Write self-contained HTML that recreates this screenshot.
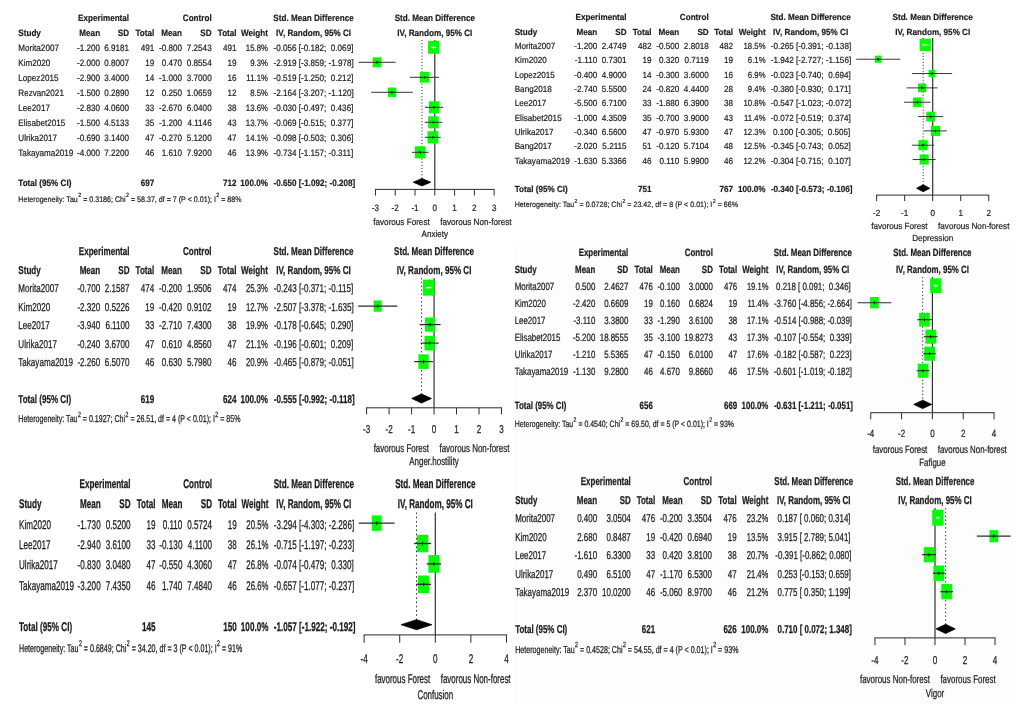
<!DOCTYPE html>
<html lang="en">
<head>
<meta charset="utf-8">
<title>Forest plots: forest therapy and mood states</title>
<style>
html,body{margin:0;padding:0;background:#fff;}
body{width:1023px;height:711px;overflow:hidden;}
svg{display:block;}
svg text{font-family:"Liberation Sans",sans-serif;font-size:8.0px;fill:#1c1c1c;stroke:#1c1c1c;stroke-width:0.18px;white-space:pre;text-rendering:geometricPrecision;}
</style>
</head>
<body>
<svg width="1023" height="711" viewBox="0 0 1023 711">
<rect x="0" y="0" width="1023" height="711" fill="#ffffff"/>
<rect x="513" y="242.5" width="496.5" height="462" fill="#fdfdfe"/>
<g id="Anxiety">
<text transform="translate(129.10,21.21) scale(1.015,1.1550)" text-anchor="end" font-weight="bold">Experimental</text>
<text transform="translate(211.65,21.21) scale(1.015,1.1550)" text-anchor="end" font-weight="bold">Control</text>
<text transform="translate(313.50,21.21) scale(1.015,1.1550)" text-anchor="middle" font-weight="bold">Std. Mean Difference</text>
<text transform="translate(434.80,21.21) scale(1.015,1.1550)" text-anchor="middle" font-weight="bold">Std. Mean Difference</text>
<text transform="translate(18.30,36.21) scale(1.015,1.1550)" font-weight="bold">Study</text>
<text transform="translate(100.10,36.21) scale(1.015,1.1550)" text-anchor="end" font-weight="bold">Mean</text>
<text transform="translate(129.10,36.21) scale(1.015,1.1550)" text-anchor="end" font-weight="bold">SD</text>
<text transform="translate(154.25,36.21) scale(1.015,1.1550)" text-anchor="end" font-weight="bold">Total</text>
<text transform="translate(182.00,36.21) scale(1.015,1.1550)" text-anchor="end" font-weight="bold">Mean</text>
<text transform="translate(211.65,36.21) scale(1.015,1.1550)" text-anchor="end" font-weight="bold">SD</text>
<text transform="translate(236.60,36.21) scale(1.015,1.1550)" text-anchor="end" font-weight="bold">Total</text>
<text transform="translate(267.90,36.21) scale(1.015,1.1550)" text-anchor="end" font-weight="bold">Weight</text>
<text transform="translate(313.50,36.21) scale(1.015,1.1550)" text-anchor="middle" font-weight="bold">IV, Random, 95% CI</text>
<text transform="translate(434.80,36.21) scale(1.015,1.1550)" text-anchor="middle" font-weight="bold">IV, Random, 95% CI</text>
<line x1="434.80" y1="40.00" x2="434.80" y2="189.40" stroke="#2b2b2b" stroke-width="1.15"/>
<line x1="421.94" y1="40.00" x2="421.94" y2="182.90" stroke="#1a1a1a" stroke-width="0.9" stroke-dasharray="1.16 1.96"/>
<text transform="translate(18.30,51.21) scale(1.015,1.1550)">Morita2007</text>
<text transform="translate(100.10,51.21) scale(1.015,1.1550)" text-anchor="end">-1.200</text>
<text transform="translate(129.10,51.21) scale(1.015,1.1550)" text-anchor="end">6.9181</text>
<text transform="translate(154.25,51.21) scale(1.015,1.1550)" text-anchor="end">491</text>
<text transform="translate(182.00,51.21) scale(1.015,1.1550)" text-anchor="end">-0.800</text>
<text transform="translate(211.65,51.21) scale(1.015,1.1550)" text-anchor="end">7.2543</text>
<text transform="translate(236.60,51.21) scale(1.015,1.1550)" text-anchor="end">491</text>
<text transform="translate(267.90,51.21) scale(0.9743999999999998,1.1550)" text-anchor="end">15.8%</text>
<text transform="translate(273.50,51.21) scale(1.015,1.1550)">-0.056 [-0.182;  0.069]</text>
<rect x="428.07" y="40.80" width="11.25" height="12.99" fill="#00ff00"/>
<line x1="431.20" y1="47.30" x2="436.16" y2="47.30" stroke="#fff" stroke-width="0.98"/>
<line x1="433.69" y1="45.91" x2="433.69" y2="48.69" stroke="#fff" stroke-width="1"/>
<text transform="translate(18.30,66.21) scale(1.015,1.1550)">Kim2020</text>
<text transform="translate(100.10,66.21) scale(1.015,1.1550)" text-anchor="end">-2.000</text>
<text transform="translate(129.10,66.21) scale(1.015,1.1550)" text-anchor="end">0.8007</text>
<text transform="translate(154.25,66.21) scale(1.015,1.1550)" text-anchor="end">19</text>
<text transform="translate(182.00,66.21) scale(1.015,1.1550)" text-anchor="end">0.470</text>
<text transform="translate(211.65,66.21) scale(1.015,1.1550)" text-anchor="end">0.8554</text>
<text transform="translate(236.60,66.21) scale(1.015,1.1550)" text-anchor="end">19</text>
<text transform="translate(267.90,66.21) scale(0.9743999999999998,1.1550)" text-anchor="end">9.3%</text>
<text transform="translate(273.50,66.21) scale(1.015,1.1550)">-2.919 [-3.859; -1.978]</text>
<rect x="372.75" y="57.32" width="8.63" height="9.97" fill="#00ff00"/>
<line x1="358.47" y1="62.30" x2="395.68" y2="62.30" stroke="#2b2b2b" stroke-width="0.98"/>
<line x1="377.06" y1="60.91" x2="377.06" y2="63.69" stroke="#000" stroke-width="1"/>
<text transform="translate(18.30,81.21) scale(1.015,1.1550)">Lopez2015</text>
<text transform="translate(100.10,81.21) scale(1.015,1.1550)" text-anchor="end">-2.900</text>
<text transform="translate(129.10,81.21) scale(1.015,1.1550)" text-anchor="end">3.4000</text>
<text transform="translate(154.25,81.21) scale(1.015,1.1550)" text-anchor="end">14</text>
<text transform="translate(182.00,81.21) scale(1.015,1.1550)" text-anchor="end">-1.000</text>
<text transform="translate(211.65,81.21) scale(1.015,1.1550)" text-anchor="end">3.7000</text>
<text transform="translate(236.60,81.21) scale(1.015,1.1550)" text-anchor="end">16</text>
<text transform="translate(267.90,81.21) scale(0.9743999999999998,1.1550)" text-anchor="end">11.1%</text>
<text transform="translate(273.50,81.21) scale(1.015,1.1550)">-0.519 [-1.250;  0.212]</text>
<rect x="419.82" y="71.85" width="9.43" height="10.89" fill="#00ff00"/>
<line x1="410.07" y1="77.30" x2="438.99" y2="77.30" stroke="#2b2b2b" stroke-width="0.98"/>
<line x1="424.53" y1="75.91" x2="424.53" y2="78.69" stroke="#000" stroke-width="1"/>
<text transform="translate(18.30,96.21) scale(1.015,1.1550)">Rezvan2021</text>
<text transform="translate(100.10,96.21) scale(1.015,1.1550)" text-anchor="end">-1.500</text>
<text transform="translate(129.10,96.21) scale(1.015,1.1550)" text-anchor="end">0.2890</text>
<text transform="translate(154.25,96.21) scale(1.015,1.1550)" text-anchor="end">12</text>
<text transform="translate(182.00,96.21) scale(1.015,1.1550)" text-anchor="end">0.250</text>
<text transform="translate(211.65,96.21) scale(1.015,1.1550)" text-anchor="end">1.0659</text>
<text transform="translate(236.60,96.21) scale(1.015,1.1550)" text-anchor="end">12</text>
<text transform="translate(267.90,96.21) scale(0.9743999999999998,1.1550)" text-anchor="end">8.5%</text>
<text transform="translate(273.50,96.21) scale(1.015,1.1550)">-2.164 [-3.207; -1.120]</text>
<rect x="387.87" y="87.53" width="8.25" height="9.53" fill="#00ff00"/>
<line x1="371.37" y1="92.30" x2="412.65" y2="92.30" stroke="#2b2b2b" stroke-width="0.98"/>
<line x1="392.00" y1="90.91" x2="392.00" y2="93.69" stroke="#000" stroke-width="1"/>
<text transform="translate(18.30,111.21) scale(1.015,1.1550)">Lee2017</text>
<text transform="translate(100.10,111.21) scale(1.015,1.1550)" text-anchor="end">-2.830</text>
<text transform="translate(129.10,111.21) scale(1.015,1.1550)" text-anchor="end">4.0600</text>
<text transform="translate(154.25,111.21) scale(1.015,1.1550)" text-anchor="end">33</text>
<text transform="translate(182.00,111.21) scale(1.015,1.1550)" text-anchor="end">-2.670</text>
<text transform="translate(211.65,111.21) scale(1.015,1.1550)" text-anchor="end">6.0400</text>
<text transform="translate(236.60,111.21) scale(1.015,1.1550)" text-anchor="end">38</text>
<text transform="translate(267.90,111.21) scale(0.9743999999999998,1.1550)" text-anchor="end">13.6%</text>
<text transform="translate(273.50,111.21) scale(1.015,1.1550)">-0.030 [-0.497;  0.436]</text>
<rect x="428.99" y="101.27" width="10.44" height="12.06" fill="#00ff00"/>
<line x1="424.97" y1="107.30" x2="443.42" y2="107.30" stroke="#2b2b2b" stroke-width="0.98"/>
<line x1="434.21" y1="105.91" x2="434.21" y2="108.69" stroke="#000" stroke-width="1"/>
<text transform="translate(18.30,126.21) scale(1.015,1.1550)">Elisabet2015</text>
<text transform="translate(100.10,126.21) scale(1.015,1.1550)" text-anchor="end">-1.500</text>
<text transform="translate(129.10,126.21) scale(1.015,1.1550)" text-anchor="end">4.5133</text>
<text transform="translate(154.25,126.21) scale(1.015,1.1550)" text-anchor="end">35</text>
<text transform="translate(182.00,126.21) scale(1.015,1.1550)" text-anchor="end">-1.200</text>
<text transform="translate(211.65,126.21) scale(1.015,1.1550)" text-anchor="end">4.1146</text>
<text transform="translate(236.60,126.21) scale(1.015,1.1550)" text-anchor="end">43</text>
<text transform="translate(267.90,126.21) scale(0.9743999999999998,1.1550)" text-anchor="end">13.7%</text>
<text transform="translate(273.50,126.21) scale(1.015,1.1550)">-0.069 [-0.515;  0.377]</text>
<rect x="428.20" y="116.25" width="10.48" height="12.10" fill="#00ff00"/>
<line x1="424.61" y1="122.30" x2="442.26" y2="122.30" stroke="#2b2b2b" stroke-width="0.98"/>
<line x1="433.44" y1="120.91" x2="433.44" y2="123.69" stroke="#000" stroke-width="1"/>
<text transform="translate(18.30,141.21) scale(1.015,1.1550)">Ulrika2017</text>
<text transform="translate(100.10,141.21) scale(1.015,1.1550)" text-anchor="end">-0.690</text>
<text transform="translate(129.10,141.21) scale(1.015,1.1550)" text-anchor="end">3.1400</text>
<text transform="translate(154.25,141.21) scale(1.015,1.1550)" text-anchor="end">47</text>
<text transform="translate(182.00,141.21) scale(1.015,1.1550)" text-anchor="end">-0.270</text>
<text transform="translate(211.65,141.21) scale(1.015,1.1550)" text-anchor="end">5.1200</text>
<text transform="translate(236.60,141.21) scale(1.015,1.1550)" text-anchor="end">47</text>
<text transform="translate(267.90,141.21) scale(0.9743999999999998,1.1550)" text-anchor="end">14.1%</text>
<text transform="translate(273.50,141.21) scale(1.015,1.1550)">-0.098 [-0.503;  0.306]</text>
<rect x="427.55" y="131.16" width="10.63" height="12.27" fill="#00ff00"/>
<line x1="424.85" y1="137.30" x2="440.85" y2="137.30" stroke="#2b2b2b" stroke-width="0.98"/>
<line x1="432.86" y1="135.91" x2="432.86" y2="138.69" stroke="#000" stroke-width="1"/>
<text transform="translate(18.30,156.21) scale(1.015,1.1550)">Takayama2019</text>
<text transform="translate(100.10,156.21) scale(1.015,1.1550)" text-anchor="end">-4.000</text>
<text transform="translate(129.10,156.21) scale(1.015,1.1550)" text-anchor="end">7.2200</text>
<text transform="translate(154.25,156.21) scale(1.015,1.1550)" text-anchor="end">46</text>
<text transform="translate(182.00,156.21) scale(1.015,1.1550)" text-anchor="end">1.610</text>
<text transform="translate(211.65,156.21) scale(1.015,1.1550)" text-anchor="end">7.9200</text>
<text transform="translate(236.60,156.21) scale(1.015,1.1550)" text-anchor="end">46</text>
<text transform="translate(267.90,156.21) scale(0.9743999999999998,1.1550)" text-anchor="end">13.9%</text>
<text transform="translate(273.50,156.21) scale(1.015,1.1550)">-0.734 [-1.157; -0.311]</text>
<rect x="415.01" y="146.21" width="10.55" height="12.19" fill="#00ff00"/>
<line x1="411.91" y1="152.30" x2="428.65" y2="152.30" stroke="#2b2b2b" stroke-width="0.98"/>
<line x1="420.28" y1="150.91" x2="420.28" y2="153.69" stroke="#000" stroke-width="1"/>
<text transform="translate(18.30,186.21) scale(1.015,1.1550)" font-weight="bold">Total (95% CI)</text>
<text transform="translate(154.25,186.21) scale(1.015,1.1550)" text-anchor="end" font-weight="bold">697</text>
<text transform="translate(236.60,186.21) scale(1.015,1.1550)" text-anchor="end" font-weight="bold">712</text>
<text transform="translate(267.90,186.21) scale(1.015,1.1550)" text-anchor="end" font-weight="bold">100.0%</text>
<text transform="translate(273.50,186.21) scale(1.015,1.1550)" font-weight="bold">-0.650 [-1.092; -0.208]</text>
<polygon points="413.20,182.20 421.94,178.50 430.69,182.20 421.94,185.90" fill="#000" stroke="#000" stroke-width="0.8"/>
<text transform="translate(18.30,201.66) scale(1.015,1.1550)" style="font-size:7.0px">Heterogeneity: Tau<tspan dx="0.4" dy="-3.8" style="font-size:5.2px">2</tspan><tspan dy="3.8"> </tspan>= 0.3186; Chi<tspan dx="0.4" dy="-3.8" style="font-size:5.2px">2</tspan><tspan dy="3.8"> </tspan>= 58.37, df = 7 (P &lt; 0.01); I<tspan dx="0.4" dy="-3.8" style="font-size:5.2px">2</tspan><tspan dy="3.8"> </tspan>= 88%</text>
<line x1="374.96" y1="189.40" x2="494.64" y2="189.40" stroke="#2b2b2b" stroke-width="1"/>
<line x1="375.46" y1="189.40" x2="375.46" y2="195.60" stroke="#2b2b2b" stroke-width="1"/>
<text transform="translate(375.46,210.81) scale(1.015,1.1550)" text-anchor="middle">-3</text>
<line x1="395.24" y1="189.40" x2="395.24" y2="195.60" stroke="#2b2b2b" stroke-width="1"/>
<text transform="translate(395.24,210.81) scale(1.015,1.1550)" text-anchor="middle">-2</text>
<line x1="415.02" y1="189.40" x2="415.02" y2="195.60" stroke="#2b2b2b" stroke-width="1"/>
<text transform="translate(415.02,210.81) scale(1.015,1.1550)" text-anchor="middle">-1</text>
<line x1="434.80" y1="189.40" x2="434.80" y2="195.60" stroke="#2b2b2b" stroke-width="1"/>
<text transform="translate(434.80,210.81) scale(1.015,1.1550)" text-anchor="middle">0</text>
<line x1="454.58" y1="189.40" x2="454.58" y2="195.60" stroke="#2b2b2b" stroke-width="1"/>
<text transform="translate(454.58,210.81) scale(1.015,1.1550)" text-anchor="middle">1</text>
<line x1="474.36" y1="189.40" x2="474.36" y2="195.60" stroke="#2b2b2b" stroke-width="1"/>
<text transform="translate(474.36,210.81) scale(1.015,1.1550)" text-anchor="middle">2</text>
<line x1="494.14" y1="189.40" x2="494.14" y2="195.60" stroke="#2b2b2b" stroke-width="1"/>
<text transform="translate(494.14,210.81) scale(1.015,1.1550)" text-anchor="middle">3</text>
<text transform="translate(429.70,225.41) scale(1.015,1.1550)" text-anchor="end">favorous Forest</text>
<text transform="translate(440.20,225.41) scale(1.015,1.1550)">favorous Non-forest</text>
<text transform="translate(434.80,236.71) scale(1.015,1.1550)" text-anchor="middle">Anxiety</text>
</g>
<g id="Depression">
<text transform="translate(626.60,20.25) scale(1.015,1.1034)" text-anchor="end" font-weight="bold">Experimental</text>
<text transform="translate(708.70,20.25) scale(1.015,1.1034)" text-anchor="end" font-weight="bold">Control</text>
<text transform="translate(810.60,20.25) scale(1.015,1.1034)" text-anchor="middle" font-weight="bold">Std. Mean Difference</text>
<text transform="translate(932.70,20.25) scale(1.015,1.1034)" text-anchor="middle" font-weight="bold">Std. Mean Difference</text>
<text transform="translate(514.70,34.58) scale(1.015,1.1034)" font-weight="bold">Study</text>
<text transform="translate(597.30,34.58) scale(1.015,1.1034)" text-anchor="end" font-weight="bold">Mean</text>
<text transform="translate(626.60,34.58) scale(1.015,1.1034)" text-anchor="end" font-weight="bold">SD</text>
<text transform="translate(651.50,34.58) scale(1.015,1.1034)" text-anchor="end" font-weight="bold">Total</text>
<text transform="translate(679.30,34.58) scale(1.015,1.1034)" text-anchor="end" font-weight="bold">Mean</text>
<text transform="translate(708.70,34.58) scale(1.015,1.1034)" text-anchor="end" font-weight="bold">SD</text>
<text transform="translate(733.00,34.58) scale(1.015,1.1034)" text-anchor="end" font-weight="bold">Total</text>
<text transform="translate(765.60,34.58) scale(1.015,1.1034)" text-anchor="end" font-weight="bold">Weight</text>
<text transform="translate(810.60,34.58) scale(1.015,1.1034)" text-anchor="middle" font-weight="bold">IV, Random, 95% CI</text>
<text transform="translate(932.70,34.58) scale(1.015,1.1034)" text-anchor="middle" font-weight="bold">IV, Random, 95% CI</text>
<line x1="932.70" y1="38.00" x2="932.70" y2="195.10" stroke="#2b2b2b" stroke-width="1.15"/>
<line x1="923.17" y1="38.00" x2="923.17" y2="189.05" stroke="#1a1a1a" stroke-width="0.9" stroke-dasharray="1.10 1.88"/>
<text transform="translate(514.70,48.91) scale(1.015,1.1034)">Morita2007</text>
<text transform="translate(597.30,48.91) scale(1.015,1.1034)" text-anchor="end">-1.200</text>
<text transform="translate(626.60,48.91) scale(1.015,1.1034)" text-anchor="end">2.4749</text>
<text transform="translate(651.50,48.91) scale(1.015,1.1034)" text-anchor="end">482</text>
<text transform="translate(679.30,48.91) scale(1.015,1.1034)" text-anchor="end">-0.500</text>
<text transform="translate(708.70,48.91) scale(1.015,1.1034)" text-anchor="end">2.8018</text>
<text transform="translate(733.00,48.91) scale(1.015,1.1034)" text-anchor="end">482</text>
<text transform="translate(765.60,48.91) scale(0.9743999999999998,1.1034)" text-anchor="end">18.5%</text>
<text transform="translate(770.80,48.91) scale(1.015,1.1034)">-0.265 [-0.391; -0.138]</text>
<rect x="919.65" y="38.69" width="11.25" height="12.41" fill="#00ff00"/>
<line x1="921.74" y1="44.90" x2="928.83" y2="44.90" stroke="#fff" stroke-width="0.94"/>
<line x1="925.27" y1="43.58" x2="925.27" y2="46.22" stroke="#fff" stroke-width="1"/>
<text transform="translate(514.70,63.24) scale(1.015,1.1034)">Kim2020</text>
<text transform="translate(597.30,63.24) scale(1.015,1.1034)" text-anchor="end">-1.110</text>
<text transform="translate(626.60,63.24) scale(1.015,1.1034)" text-anchor="end">0.7301</text>
<text transform="translate(651.50,63.24) scale(1.015,1.1034)" text-anchor="end">19</text>
<text transform="translate(679.30,63.24) scale(1.015,1.1034)" text-anchor="end">0.320</text>
<text transform="translate(708.70,63.24) scale(1.015,1.1034)" text-anchor="end">0.7119</text>
<text transform="translate(733.00,63.24) scale(1.015,1.1034)" text-anchor="end">19</text>
<text transform="translate(765.60,63.24) scale(0.9743999999999998,1.1034)" text-anchor="end">6.1%</text>
<text transform="translate(770.80,63.24) scale(1.015,1.1034)">-1.942 [-2.727; -1.156]</text>
<rect x="875.04" y="55.67" width="6.46" height="7.13" fill="#00ff00"/>
<line x1="856.26" y1="59.23" x2="900.30" y2="59.23" stroke="#2b2b2b" stroke-width="0.94"/>
<line x1="878.27" y1="57.91" x2="878.27" y2="60.55" stroke="#000" stroke-width="1"/>
<text transform="translate(514.70,77.57) scale(1.015,1.1034)">Lopez2015</text>
<text transform="translate(597.30,77.57) scale(1.015,1.1034)" text-anchor="end">-0.400</text>
<text transform="translate(626.60,77.57) scale(1.015,1.1034)" text-anchor="end">4.9000</text>
<text transform="translate(651.50,77.57) scale(1.015,1.1034)" text-anchor="end">14</text>
<text transform="translate(679.30,77.57) scale(1.015,1.1034)" text-anchor="end">-0.300</text>
<text transform="translate(708.70,77.57) scale(1.015,1.1034)" text-anchor="end">3.6000</text>
<text transform="translate(733.00,77.57) scale(1.015,1.1034)" text-anchor="end">16</text>
<text transform="translate(765.60,77.57) scale(0.9743999999999998,1.1034)" text-anchor="end">6.9%</text>
<text transform="translate(770.80,77.57) scale(1.015,1.1034)">-0.023 [-0.740;  0.694]</text>
<rect x="928.62" y="69.77" width="6.87" height="7.58" fill="#00ff00"/>
<line x1="911.96" y1="73.56" x2="952.15" y2="73.56" stroke="#2b2b2b" stroke-width="0.94"/>
<line x1="932.06" y1="72.24" x2="932.06" y2="74.88" stroke="#000" stroke-width="1"/>
<text transform="translate(514.70,91.90) scale(1.015,1.1034)">Bang2018</text>
<text transform="translate(597.30,91.90) scale(1.015,1.1034)" text-anchor="end">-2.740</text>
<text transform="translate(626.60,91.90) scale(1.015,1.1034)" text-anchor="end">5.5500</text>
<text transform="translate(651.50,91.90) scale(1.015,1.1034)" text-anchor="end">24</text>
<text transform="translate(679.30,91.90) scale(1.015,1.1034)" text-anchor="end">-0.820</text>
<text transform="translate(708.70,91.90) scale(1.015,1.1034)" text-anchor="end">4.4400</text>
<text transform="translate(733.00,91.90) scale(1.015,1.1034)" text-anchor="end">28</text>
<text transform="translate(765.60,91.90) scale(0.9743999999999998,1.1034)" text-anchor="end">9.4%</text>
<text transform="translate(770.80,91.90) scale(1.015,1.1034)">-0.380 [-0.930;  0.171]</text>
<rect x="918.04" y="83.47" width="8.02" height="8.85" fill="#00ff00"/>
<line x1="906.63" y1="87.89" x2="937.49" y2="87.89" stroke="#2b2b2b" stroke-width="0.94"/>
<line x1="922.05" y1="86.57" x2="922.05" y2="89.21" stroke="#000" stroke-width="1"/>
<text transform="translate(514.70,106.23) scale(1.015,1.1034)">Lee2017</text>
<text transform="translate(597.30,106.23) scale(1.015,1.1034)" text-anchor="end">-5.500</text>
<text transform="translate(626.60,106.23) scale(1.015,1.1034)" text-anchor="end">6.7100</text>
<text transform="translate(651.50,106.23) scale(1.015,1.1034)" text-anchor="end">33</text>
<text transform="translate(679.30,106.23) scale(1.015,1.1034)" text-anchor="end">-1.880</text>
<text transform="translate(708.70,106.23) scale(1.015,1.1034)" text-anchor="end">6.3900</text>
<text transform="translate(733.00,106.23) scale(1.015,1.1034)" text-anchor="end">38</text>
<text transform="translate(765.60,106.23) scale(0.9743999999999998,1.1034)" text-anchor="end">10.8%</text>
<text transform="translate(770.80,106.23) scale(1.015,1.1034)">-0.547 [-1.023; -0.072]</text>
<rect x="913.07" y="97.48" width="8.60" height="9.48" fill="#00ff00"/>
<line x1="904.03" y1="102.22" x2="930.68" y2="102.22" stroke="#2b2b2b" stroke-width="0.94"/>
<line x1="917.37" y1="100.90" x2="917.37" y2="103.54" stroke="#000" stroke-width="1"/>
<text transform="translate(514.70,120.56) scale(1.015,1.1034)">Elisabet2015</text>
<text transform="translate(597.30,120.56) scale(1.015,1.1034)" text-anchor="end">-1.000</text>
<text transform="translate(626.60,120.56) scale(1.015,1.1034)" text-anchor="end">4.3509</text>
<text transform="translate(651.50,120.56) scale(1.015,1.1034)" text-anchor="end">35</text>
<text transform="translate(679.30,120.56) scale(1.015,1.1034)" text-anchor="end">-0.700</text>
<text transform="translate(708.70,120.56) scale(1.015,1.1034)" text-anchor="end">3.9000</text>
<text transform="translate(733.00,120.56) scale(1.015,1.1034)" text-anchor="end">43</text>
<text transform="translate(765.60,120.56) scale(0.9743999999999998,1.1034)" text-anchor="end">11.4%</text>
<text transform="translate(770.80,120.56) scale(1.015,1.1034)">-0.072 [-0.519;  0.374]</text>
<rect x="926.27" y="111.68" width="8.83" height="9.74" fill="#00ff00"/>
<line x1="918.15" y1="116.55" x2="943.18" y2="116.55" stroke="#2b2b2b" stroke-width="0.94"/>
<line x1="930.68" y1="115.23" x2="930.68" y2="117.87" stroke="#000" stroke-width="1"/>
<text transform="translate(514.70,134.89) scale(1.015,1.1034)">Ulrika2017</text>
<text transform="translate(597.30,134.89) scale(1.015,1.1034)" text-anchor="end">-0.340</text>
<text transform="translate(626.60,134.89) scale(1.015,1.1034)" text-anchor="end">6.5600</text>
<text transform="translate(651.50,134.89) scale(1.015,1.1034)" text-anchor="end">47</text>
<text transform="translate(679.30,134.89) scale(1.015,1.1034)" text-anchor="end">-0.970</text>
<text transform="translate(708.70,134.89) scale(1.015,1.1034)" text-anchor="end">5.9300</text>
<text transform="translate(733.00,134.89) scale(1.015,1.1034)" text-anchor="end">47</text>
<text transform="translate(765.60,134.89) scale(0.9743999999999998,1.1034)" text-anchor="end">12.3%</text>
<text transform="translate(770.80,134.89) scale(1.015,1.1034)"> 0.100 [-0.305;  0.505]</text>
<rect x="930.92" y="125.82" width="9.17" height="10.12" fill="#00ff00"/>
<line x1="924.15" y1="130.88" x2="946.86" y2="130.88" stroke="#2b2b2b" stroke-width="0.94"/>
<line x1="935.50" y1="129.56" x2="935.50" y2="132.20" stroke="#000" stroke-width="1"/>
<text transform="translate(514.70,149.22) scale(1.015,1.1034)">Bang2017</text>
<text transform="translate(597.30,149.22) scale(1.015,1.1034)" text-anchor="end">-2.020</text>
<text transform="translate(626.60,149.22) scale(1.015,1.1034)" text-anchor="end">5.2115</text>
<text transform="translate(651.50,149.22) scale(1.015,1.1034)" text-anchor="end">51</text>
<text transform="translate(679.30,149.22) scale(1.015,1.1034)" text-anchor="end">-0.120</text>
<text transform="translate(708.70,149.22) scale(1.015,1.1034)" text-anchor="end">5.7104</text>
<text transform="translate(733.00,149.22) scale(1.015,1.1034)" text-anchor="end">48</text>
<text transform="translate(765.60,149.22) scale(0.9743999999999998,1.1034)" text-anchor="end">12.5%</text>
<text transform="translate(770.80,149.22) scale(1.015,1.1034)">-0.345 [-0.743;  0.052]</text>
<rect x="918.41" y="140.11" width="9.25" height="10.20" fill="#00ff00"/>
<line x1="911.87" y1="145.21" x2="934.16" y2="145.21" stroke="#2b2b2b" stroke-width="0.94"/>
<line x1="923.03" y1="143.89" x2="923.03" y2="146.53" stroke="#000" stroke-width="1"/>
<text transform="translate(514.70,163.55) scale(1.015,1.1034)">Takayama2019</text>
<text transform="translate(597.30,163.55) scale(1.015,1.1034)" text-anchor="end">-1.630</text>
<text transform="translate(626.60,163.55) scale(1.015,1.1034)" text-anchor="end">5.3366</text>
<text transform="translate(651.50,163.55) scale(1.015,1.1034)" text-anchor="end">46</text>
<text transform="translate(679.30,163.55) scale(1.015,1.1034)" text-anchor="end">0.110</text>
<text transform="translate(708.70,163.55) scale(1.015,1.1034)" text-anchor="end">5.9900</text>
<text transform="translate(733.00,163.55) scale(1.015,1.1034)" text-anchor="end">46</text>
<text transform="translate(765.60,163.55) scale(0.9743999999999998,1.1034)" text-anchor="end">12.2%</text>
<text transform="translate(770.80,163.55) scale(1.015,1.1034)">-0.304 [-0.715;  0.107]</text>
<rect x="919.61" y="154.50" width="9.14" height="10.08" fill="#00ff00"/>
<line x1="912.66" y1="159.54" x2="935.70" y2="159.54" stroke="#2b2b2b" stroke-width="0.94"/>
<line x1="924.18" y1="158.22" x2="924.18" y2="160.86" stroke="#000" stroke-width="1"/>
<text transform="translate(514.70,192.21) scale(1.015,1.1034)" font-weight="bold">Total (95% CI)</text>
<text transform="translate(651.50,192.21) scale(1.015,1.1034)" text-anchor="end" font-weight="bold">751</text>
<text transform="translate(733.00,192.21) scale(1.015,1.1034)" text-anchor="end" font-weight="bold">767</text>
<text transform="translate(765.60,192.21) scale(1.015,1.1034)" text-anchor="end" font-weight="bold">100.0%</text>
<text transform="translate(770.80,192.21) scale(1.015,1.1034)" font-weight="bold">-0.340 [-0.573; -0.106]</text>
<polygon points="916.64,188.25 923.17,184.72 929.73,188.25 923.17,191.78" fill="#000" stroke="#000" stroke-width="0.8"/>
<text transform="translate(514.70,206.97) scale(1.015,1.1034)" style="font-size:7.0px">Heterogeneity: Tau<tspan dx="0.4" dy="-3.8" style="font-size:5.2px">2</tspan><tspan dy="3.8"> </tspan>= 0.0728; Chi<tspan dx="0.4" dy="-3.8" style="font-size:5.2px">2</tspan><tspan dy="3.8"> </tspan>= 23.42, df = 8 (P &lt; 0.01); I<tspan dx="0.4" dy="-3.8" style="font-size:5.2px">2</tspan><tspan dy="3.8"> </tspan>= 66%</text>
<line x1="876.14" y1="195.10" x2="989.26" y2="195.10" stroke="#2b2b2b" stroke-width="1"/>
<line x1="876.64" y1="195.10" x2="876.64" y2="201.10" stroke="#2b2b2b" stroke-width="1"/>
<text transform="translate(876.64,215.56) scale(1.015,1.1034)" text-anchor="middle">-2</text>
<line x1="904.67" y1="195.10" x2="904.67" y2="201.10" stroke="#2b2b2b" stroke-width="1"/>
<text transform="translate(904.67,215.56) scale(1.015,1.1034)" text-anchor="middle">-1</text>
<line x1="932.70" y1="195.10" x2="932.70" y2="201.10" stroke="#2b2b2b" stroke-width="1"/>
<text transform="translate(932.70,215.56) scale(1.015,1.1034)" text-anchor="middle">0</text>
<line x1="960.73" y1="195.10" x2="960.73" y2="201.10" stroke="#2b2b2b" stroke-width="1"/>
<text transform="translate(960.73,215.56) scale(1.015,1.1034)" text-anchor="middle">1</text>
<line x1="988.76" y1="195.10" x2="988.76" y2="201.10" stroke="#2b2b2b" stroke-width="1"/>
<text transform="translate(988.76,215.56) scale(1.015,1.1034)" text-anchor="middle">2</text>
<text transform="translate(927.60,229.41) scale(1.015,1.1034)" text-anchor="end">favorous Forest</text>
<text transform="translate(938.10,229.41) scale(1.015,1.1034)">favorous Non-forest</text>
<text transform="translate(932.70,240.56) scale(1.015,1.1034)" text-anchor="middle">Depression</text>
</g>
<g id="Anger-hostility">
<text transform="translate(129.50,255.08) scale(1.01,1.4245)" text-anchor="end" font-weight="bold">Experimental</text>
<text transform="translate(211.60,255.08) scale(1.01,1.4245)" text-anchor="end" font-weight="bold">Control</text>
<text transform="translate(313.50,255.08) scale(1.01,1.4245)" text-anchor="middle" font-weight="bold">Std. Mean Difference</text>
<text transform="translate(434.05,255.08) scale(1.01,1.4245)" text-anchor="middle" font-weight="bold">Std. Mean Difference</text>
<text transform="translate(18.30,273.58) scale(1.01,1.4245)" font-weight="bold">Study</text>
<text transform="translate(100.30,273.58) scale(1.01,1.4245)" text-anchor="end" font-weight="bold">Mean</text>
<text transform="translate(129.50,273.58) scale(1.01,1.4245)" text-anchor="end" font-weight="bold">SD</text>
<text transform="translate(154.25,273.58) scale(1.01,1.4245)" text-anchor="end" font-weight="bold">Total</text>
<text transform="translate(182.00,273.58) scale(1.01,1.4245)" text-anchor="end" font-weight="bold">Mean</text>
<text transform="translate(211.60,273.58) scale(1.01,1.4245)" text-anchor="end" font-weight="bold">SD</text>
<text transform="translate(236.40,273.58) scale(1.01,1.4245)" text-anchor="end" font-weight="bold">Total</text>
<text transform="translate(267.90,273.58) scale(1.01,1.4245)" text-anchor="end" font-weight="bold">Weight</text>
<text transform="translate(313.50,273.58) scale(1.01,1.4245)" text-anchor="middle" font-weight="bold">IV, Random, 95% CI</text>
<text transform="translate(434.05,273.58) scale(1.01,1.4245)" text-anchor="middle" font-weight="bold">IV, Random, 95% CI</text>
<line x1="434.05" y1="278.00" x2="434.05" y2="407.80" stroke="#2b2b2b" stroke-width="1.15"/>
<line x1="421.57" y1="278.00" x2="421.57" y2="399.00" stroke="#1a1a1a" stroke-width="0.9" stroke-dasharray="1.42 2.42"/>
<text transform="translate(18.30,292.08) scale(1.01,1.4245)">Morita2007</text>
<text transform="translate(100.30,292.08) scale(1.01,1.4245)" text-anchor="end">-0.700</text>
<text transform="translate(129.50,292.08) scale(1.01,1.4245)" text-anchor="end">2.1587</text>
<text transform="translate(154.25,292.08) scale(1.01,1.4245)" text-anchor="end">474</text>
<text transform="translate(182.00,292.08) scale(1.01,1.4245)" text-anchor="end">-0.200</text>
<text transform="translate(211.60,292.08) scale(1.01,1.4245)" text-anchor="end">1.9506</text>
<text transform="translate(236.40,292.08) scale(1.01,1.4245)" text-anchor="end">474</text>
<text transform="translate(267.90,292.08) scale(0.9696,1.4245)" text-anchor="end">25.3%</text>
<text transform="translate(273.80,292.08) scale(1.01,1.4245)">-0.243 [-0.371; -0.115]</text>
<rect x="422.96" y="279.59" width="11.25" height="16.03" fill="#00ff00"/>
<line x1="425.71" y1="287.60" x2="431.46" y2="287.60" stroke="#fff" stroke-width="1.21"/>
<line x1="428.59" y1="285.89" x2="428.59" y2="289.31" stroke="#fff" stroke-width="1"/>
<text transform="translate(18.30,310.58) scale(1.01,1.4245)">Kim2020</text>
<text transform="translate(100.30,310.58) scale(1.01,1.4245)" text-anchor="end">-2.320</text>
<text transform="translate(129.50,310.58) scale(1.01,1.4245)" text-anchor="end">0.5226</text>
<text transform="translate(154.25,310.58) scale(1.01,1.4245)" text-anchor="end">19</text>
<text transform="translate(182.00,310.58) scale(1.01,1.4245)" text-anchor="end">-0.420</text>
<text transform="translate(211.60,310.58) scale(1.01,1.4245)" text-anchor="end">0.9102</text>
<text transform="translate(236.40,310.58) scale(1.01,1.4245)" text-anchor="end">19</text>
<text transform="translate(267.90,310.58) scale(0.9696,1.4245)" text-anchor="end">12.7%</text>
<text transform="translate(273.80,310.58) scale(1.01,1.4245)">-2.507 [-3.378; -1.635]</text>
<rect x="373.71" y="300.42" width="7.97" height="11.35" fill="#00ff00"/>
<line x1="358.11" y1="306.10" x2="397.30" y2="306.10" stroke="#2b2b2b" stroke-width="1.21"/>
<line x1="377.69" y1="304.39" x2="377.69" y2="307.81" stroke="#000" stroke-width="1"/>
<text transform="translate(18.30,329.08) scale(1.01,1.4245)">Lee2017</text>
<text transform="translate(100.30,329.08) scale(1.01,1.4245)" text-anchor="end">-3.940</text>
<text transform="translate(129.50,329.08) scale(1.01,1.4245)" text-anchor="end">6.1100</text>
<text transform="translate(154.25,329.08) scale(1.01,1.4245)" text-anchor="end">33</text>
<text transform="translate(182.00,329.08) scale(1.01,1.4245)" text-anchor="end">-2.710</text>
<text transform="translate(211.60,329.08) scale(1.01,1.4245)" text-anchor="end">7.4300</text>
<text transform="translate(236.40,329.08) scale(1.01,1.4245)" text-anchor="end">38</text>
<text transform="translate(267.90,329.08) scale(0.9696,1.4245)" text-anchor="end">19.9%</text>
<text transform="translate(273.80,329.08) scale(1.01,1.4245)">-0.178 [-0.645;  0.290]</text>
<rect x="425.06" y="317.49" width="9.98" height="14.21" fill="#00ff00"/>
<line x1="419.55" y1="324.60" x2="440.57" y2="324.60" stroke="#2b2b2b" stroke-width="1.21"/>
<line x1="430.05" y1="322.89" x2="430.05" y2="326.31" stroke="#000" stroke-width="1"/>
<text transform="translate(18.30,347.58) scale(1.01,1.4245)">Ulrika2017</text>
<text transform="translate(100.30,347.58) scale(1.01,1.4245)" text-anchor="end">-0.240</text>
<text transform="translate(129.50,347.58) scale(1.01,1.4245)" text-anchor="end">3.6700</text>
<text transform="translate(154.25,347.58) scale(1.01,1.4245)" text-anchor="end">47</text>
<text transform="translate(182.00,347.58) scale(1.01,1.4245)" text-anchor="end">0.610</text>
<text transform="translate(211.60,347.58) scale(1.01,1.4245)" text-anchor="end">4.8560</text>
<text transform="translate(236.40,347.58) scale(1.01,1.4245)" text-anchor="end">47</text>
<text transform="translate(267.90,347.58) scale(0.9696,1.4245)" text-anchor="end">21.1%</text>
<text transform="translate(273.80,347.58) scale(1.01,1.4245)">-0.196 [-0.601;  0.209]</text>
<rect x="424.51" y="335.78" width="10.27" height="14.64" fill="#00ff00"/>
<line x1="420.54" y1="343.10" x2="438.75" y2="343.10" stroke="#2b2b2b" stroke-width="1.21"/>
<line x1="429.64" y1="341.39" x2="429.64" y2="344.81" stroke="#000" stroke-width="1"/>
<text transform="translate(18.30,366.08) scale(1.01,1.4245)">Takayama2019</text>
<text transform="translate(100.30,366.08) scale(1.01,1.4245)" text-anchor="end">-2.260</text>
<text transform="translate(129.50,366.08) scale(1.01,1.4245)" text-anchor="end">6.5070</text>
<text transform="translate(154.25,366.08) scale(1.01,1.4245)" text-anchor="end">46</text>
<text transform="translate(182.00,366.08) scale(1.01,1.4245)" text-anchor="end">0.630</text>
<text transform="translate(211.60,366.08) scale(1.01,1.4245)" text-anchor="end">5.7980</text>
<text transform="translate(236.40,366.08) scale(1.01,1.4245)" text-anchor="end">46</text>
<text transform="translate(267.90,366.08) scale(0.9696,1.4245)" text-anchor="end">20.9%</text>
<text transform="translate(273.80,366.08) scale(1.01,1.4245)">-0.465 [-0.879; -0.051]</text>
<rect x="418.48" y="354.32" width="10.23" height="14.57" fill="#00ff00"/>
<line x1="414.29" y1="361.60" x2="432.90" y2="361.60" stroke="#2b2b2b" stroke-width="1.21"/>
<line x1="423.60" y1="359.89" x2="423.60" y2="363.31" stroke="#000" stroke-width="1"/>
<text transform="translate(18.30,403.08) scale(1.01,1.4245)" font-weight="bold">Total (95% CI)</text>
<text transform="translate(154.25,403.08) scale(1.01,1.4245)" text-anchor="end" font-weight="bold">619</text>
<text transform="translate(236.40,403.08) scale(1.01,1.4245)" text-anchor="end" font-weight="bold">624</text>
<text transform="translate(267.90,403.08) scale(1.01,1.4245)" text-anchor="end" font-weight="bold">100.0%</text>
<text transform="translate(273.80,403.08) scale(1.01,1.4245)" font-weight="bold">-0.555 [-0.992; -0.118]</text>
<polygon points="411.75,398.50 421.57,393.94 431.40,398.50 421.57,403.06" fill="#000" stroke="#000" stroke-width="0.8"/>
<text transform="translate(18.30,422.14) scale(1.01,1.4245)" style="font-size:7.0px">Heterogeneity: Tau<tspan dx="0.4" dy="-3.8" style="font-size:5.2px">2</tspan><tspan dy="3.8"> </tspan>= 0.1927; Chi<tspan dx="0.4" dy="-3.8" style="font-size:5.2px">2</tspan><tspan dy="3.8"> </tspan>= 26.51, df = 4 (P &lt; 0.01); I<tspan dx="0.4" dy="-3.8" style="font-size:5.2px">2</tspan><tspan dy="3.8"> </tspan>= 85%</text>
<line x1="366.11" y1="407.80" x2="501.99" y2="407.80" stroke="#2b2b2b" stroke-width="1"/>
<line x1="366.61" y1="407.80" x2="366.61" y2="414.40" stroke="#2b2b2b" stroke-width="1"/>
<text transform="translate(366.61,433.38) scale(1.01,1.4245)" text-anchor="middle">-3</text>
<line x1="389.09" y1="407.80" x2="389.09" y2="414.40" stroke="#2b2b2b" stroke-width="1"/>
<text transform="translate(389.09,433.38) scale(1.01,1.4245)" text-anchor="middle">-2</text>
<line x1="411.57" y1="407.80" x2="411.57" y2="414.40" stroke="#2b2b2b" stroke-width="1"/>
<text transform="translate(411.57,433.38) scale(1.01,1.4245)" text-anchor="middle">-1</text>
<line x1="434.05" y1="407.80" x2="434.05" y2="414.40" stroke="#2b2b2b" stroke-width="1"/>
<text transform="translate(434.05,433.38) scale(1.01,1.4245)" text-anchor="middle">0</text>
<line x1="456.53" y1="407.80" x2="456.53" y2="414.40" stroke="#2b2b2b" stroke-width="1"/>
<text transform="translate(456.53,433.38) scale(1.01,1.4245)" text-anchor="middle">1</text>
<line x1="479.01" y1="407.80" x2="479.01" y2="414.40" stroke="#2b2b2b" stroke-width="1"/>
<text transform="translate(479.01,433.38) scale(1.01,1.4245)" text-anchor="middle">2</text>
<line x1="501.49" y1="407.80" x2="501.49" y2="414.40" stroke="#2b2b2b" stroke-width="1"/>
<text transform="translate(501.49,433.38) scale(1.01,1.4245)" text-anchor="middle">3</text>
<text transform="translate(428.95,451.88) scale(0.99485,1.4245)" text-anchor="end">favorous Forest</text>
<text transform="translate(439.45,451.88) scale(0.99485,1.4245)">favorous Non-forest</text>
<text transform="translate(434.05,465.18) scale(0.99485,1.4245)" text-anchor="middle">Anger.hostility</text>
</g>
<g id="Fafigue">
<text transform="translate(628.30,256.00) scale(0.987,1.3090)" text-anchor="end" font-weight="bold">Experimental</text>
<text transform="translate(712.85,256.00) scale(0.987,1.3090)" text-anchor="end" font-weight="bold">Control</text>
<text transform="translate(812.80,256.00) scale(0.987,1.3090)" text-anchor="middle" font-weight="bold">Std. Mean Difference</text>
<text transform="translate(932.40,256.00) scale(0.987,1.3090)" text-anchor="middle" font-weight="bold">Std. Mean Difference</text>
<text transform="translate(514.70,273.00) scale(0.987,1.3090)" font-weight="bold">Study</text>
<text transform="translate(595.30,273.00) scale(0.987,1.3090)" text-anchor="end" font-weight="bold">Mean</text>
<text transform="translate(628.30,273.00) scale(0.987,1.3090)" text-anchor="end" font-weight="bold">SD</text>
<text transform="translate(652.80,273.00) scale(0.987,1.3090)" text-anchor="end" font-weight="bold">Total</text>
<text transform="translate(679.85,273.00) scale(0.987,1.3090)" text-anchor="end" font-weight="bold">Mean</text>
<text transform="translate(712.85,273.00) scale(0.987,1.3090)" text-anchor="end" font-weight="bold">SD</text>
<text transform="translate(737.20,273.00) scale(0.987,1.3090)" text-anchor="end" font-weight="bold">Total</text>
<text transform="translate(768.40,273.00) scale(0.987,1.3090)" text-anchor="end" font-weight="bold">Weight</text>
<text transform="translate(812.80,273.00) scale(0.987,1.3090)" text-anchor="middle" font-weight="bold">IV, Random, 95% CI</text>
<text transform="translate(932.40,273.00) scale(0.987,1.3090)" text-anchor="middle" font-weight="bold">IV, Random, 95% CI</text>
<line x1="932.40" y1="277.00" x2="932.40" y2="412.70" stroke="#2b2b2b" stroke-width="1.15"/>
<line x1="922.68" y1="277.00" x2="922.68" y2="405.25" stroke="#1a1a1a" stroke-width="0.9" stroke-dasharray="1.31 2.23"/>
<text transform="translate(514.70,290.00) scale(0.987,1.3090)">Morita2007</text>
<text transform="translate(595.30,290.00) scale(0.987,1.3090)" text-anchor="end">0.500</text>
<text transform="translate(628.30,290.00) scale(0.987,1.3090)" text-anchor="end">2.4627</text>
<text transform="translate(652.80,290.00) scale(0.987,1.3090)" text-anchor="end">476</text>
<text transform="translate(679.85,290.00) scale(0.987,1.3090)" text-anchor="end">-0.100</text>
<text transform="translate(712.85,290.00) scale(0.987,1.3090)" text-anchor="end">3.0000</text>
<text transform="translate(737.20,290.00) scale(0.987,1.3090)" text-anchor="end">476</text>
<text transform="translate(768.40,290.00) scale(0.9475199999999999,1.3090)" text-anchor="end">19.1%</text>
<text transform="translate(773.90,290.00) scale(0.987,1.3090)"> 0.218 [ 0.091;  0.346]</text>
<rect x="930.13" y="278.34" width="11.25" height="14.73" fill="#00ff00"/>
<line x1="933.80" y1="285.70" x2="937.73" y2="285.70" stroke="#fff" stroke-width="1.11"/>
<line x1="935.76" y1="284.13" x2="935.76" y2="287.27" stroke="#fff" stroke-width="1"/>
<text transform="translate(514.70,307.00) scale(0.987,1.3090)">Kim2020</text>
<text transform="translate(595.30,307.00) scale(0.987,1.3090)" text-anchor="end">-2.420</text>
<text transform="translate(628.30,307.00) scale(0.987,1.3090)" text-anchor="end">0.6609</text>
<text transform="translate(652.80,307.00) scale(0.987,1.3090)" text-anchor="end">19</text>
<text transform="translate(679.85,307.00) scale(0.987,1.3090)" text-anchor="end">0.160</text>
<text transform="translate(712.85,307.00) scale(0.987,1.3090)" text-anchor="end">0.6824</text>
<text transform="translate(737.20,307.00) scale(0.987,1.3090)" text-anchor="end">19</text>
<text transform="translate(768.40,307.00) scale(0.9475199999999999,1.3090)" text-anchor="end">11.4%</text>
<text transform="translate(773.90,307.00) scale(0.987,1.3090)">-3.760 [-4.856; -2.664]</text>
<rect x="870.11" y="297.01" width="8.69" height="11.38" fill="#00ff00"/>
<line x1="857.57" y1="302.70" x2="891.35" y2="302.70" stroke="#2b2b2b" stroke-width="1.11"/>
<line x1="874.46" y1="301.13" x2="874.46" y2="304.27" stroke="#000" stroke-width="1"/>
<text transform="translate(514.70,324.00) scale(0.987,1.3090)">Lee2017</text>
<text transform="translate(595.30,324.00) scale(0.987,1.3090)" text-anchor="end">-3.110</text>
<text transform="translate(628.30,324.00) scale(0.987,1.3090)" text-anchor="end">3.3800</text>
<text transform="translate(652.80,324.00) scale(0.987,1.3090)" text-anchor="end">33</text>
<text transform="translate(679.85,324.00) scale(0.987,1.3090)" text-anchor="end">-1.290</text>
<text transform="translate(712.85,324.00) scale(0.987,1.3090)" text-anchor="end">3.6100</text>
<text transform="translate(737.20,324.00) scale(0.987,1.3090)" text-anchor="end">38</text>
<text transform="translate(768.40,324.00) scale(0.9475199999999999,1.3090)" text-anchor="end">17.1%</text>
<text transform="translate(773.90,324.00) scale(0.987,1.3090)">-0.514 [-0.988; -0.039]</text>
<rect x="919.16" y="312.73" width="10.64" height="13.93" fill="#00ff00"/>
<line x1="917.17" y1="319.70" x2="931.80" y2="319.70" stroke="#2b2b2b" stroke-width="1.11"/>
<line x1="924.48" y1="318.13" x2="924.48" y2="321.27" stroke="#000" stroke-width="1"/>
<text transform="translate(514.70,341.00) scale(0.987,1.3090)">Elisabet2015</text>
<text transform="translate(595.30,341.00) scale(0.987,1.3090)" text-anchor="end">-5.200</text>
<text transform="translate(628.30,341.00) scale(0.987,1.3090)" text-anchor="end">18.8555</text>
<text transform="translate(652.80,341.00) scale(0.987,1.3090)" text-anchor="end">35</text>
<text transform="translate(679.85,341.00) scale(0.987,1.3090)" text-anchor="end">-3.100</text>
<text transform="translate(712.85,341.00) scale(0.987,1.3090)" text-anchor="end">19.8273</text>
<text transform="translate(737.20,341.00) scale(0.987,1.3090)" text-anchor="end">43</text>
<text transform="translate(768.40,341.00) scale(0.9475199999999999,1.3090)" text-anchor="end">17.3%</text>
<text transform="translate(773.90,341.00) scale(0.987,1.3090)">-0.107 [-0.554;  0.339]</text>
<rect x="925.40" y="329.69" width="10.71" height="14.02" fill="#00ff00"/>
<line x1="923.86" y1="336.70" x2="937.62" y2="336.70" stroke="#2b2b2b" stroke-width="1.11"/>
<line x1="930.75" y1="335.13" x2="930.75" y2="338.27" stroke="#000" stroke-width="1"/>
<text transform="translate(514.70,358.00) scale(0.987,1.3090)">Ulrika2017</text>
<text transform="translate(595.30,358.00) scale(0.987,1.3090)" text-anchor="end">-1.210</text>
<text transform="translate(628.30,358.00) scale(0.987,1.3090)" text-anchor="end">5.5365</text>
<text transform="translate(652.80,358.00) scale(0.987,1.3090)" text-anchor="end">47</text>
<text transform="translate(679.85,358.00) scale(0.987,1.3090)" text-anchor="end">-0.150</text>
<text transform="translate(712.85,358.00) scale(0.987,1.3090)" text-anchor="end">6.0100</text>
<text transform="translate(737.20,358.00) scale(0.987,1.3090)" text-anchor="end">47</text>
<text transform="translate(768.40,358.00) scale(0.9475199999999999,1.3090)" text-anchor="end">17.6%</text>
<text transform="translate(773.90,358.00) scale(0.987,1.3090)">-0.182 [-0.587;  0.223]</text>
<rect x="924.20" y="346.63" width="10.80" height="14.14" fill="#00ff00"/>
<line x1="923.35" y1="353.70" x2="935.84" y2="353.70" stroke="#2b2b2b" stroke-width="1.11"/>
<line x1="929.60" y1="352.13" x2="929.60" y2="355.27" stroke="#000" stroke-width="1"/>
<text transform="translate(514.70,375.00) scale(0.987,1.3090)">Takayama2019</text>
<text transform="translate(595.30,375.00) scale(0.987,1.3090)" text-anchor="end">-1.130</text>
<text transform="translate(628.30,375.00) scale(0.987,1.3090)" text-anchor="end">9.2800</text>
<text transform="translate(652.80,375.00) scale(0.987,1.3090)" text-anchor="end">46</text>
<text transform="translate(679.85,375.00) scale(0.987,1.3090)" text-anchor="end">4.670</text>
<text transform="translate(712.85,375.00) scale(0.987,1.3090)" text-anchor="end">9.8660</text>
<text transform="translate(737.20,375.00) scale(0.987,1.3090)" text-anchor="end">46</text>
<text transform="translate(768.40,375.00) scale(0.9475199999999999,1.3090)" text-anchor="end">17.5%</text>
<text transform="translate(773.90,375.00) scale(0.987,1.3090)">-0.601 [-1.019; -0.182]</text>
<rect x="917.75" y="363.65" width="10.77" height="14.10" fill="#00ff00"/>
<line x1="916.70" y1="370.70" x2="929.60" y2="370.70" stroke="#2b2b2b" stroke-width="1.11"/>
<line x1="923.14" y1="369.13" x2="923.14" y2="372.27" stroke="#000" stroke-width="1"/>
<text transform="translate(514.70,409.00) scale(0.987,1.3090)" font-weight="bold">Total (95% CI)</text>
<text transform="translate(652.80,409.00) scale(0.987,1.3090)" text-anchor="end" font-weight="bold">656</text>
<text transform="translate(737.20,409.00) scale(0.987,1.3090)" text-anchor="end" font-weight="bold">669</text>
<text transform="translate(768.40,409.00) scale(0.987,1.3090)" text-anchor="end" font-weight="bold">100.0%</text>
<text transform="translate(773.90,409.00) scale(0.987,1.3090)" font-weight="bold">-0.631 [-1.211; -0.051]</text>
<polygon points="913.74,404.40 922.68,400.21 931.61,404.40 922.68,408.59" fill="#000" stroke="#000" stroke-width="0.8"/>
<text transform="translate(514.70,426.51) scale(0.99687,1.3090)" style="font-size:7.0px">Heterogeneity: Tau<tspan dx="0.4" dy="-3.8" style="font-size:5.2px">2</tspan><tspan dy="3.8"> </tspan>= 0.4540; Chi<tspan dx="0.4" dy="-3.8" style="font-size:5.2px">2</tspan><tspan dy="3.8"> </tspan>= 69.50, df = 5 (P &lt; 0.01); I<tspan dx="0.4" dy="-3.8" style="font-size:5.2px">2</tspan><tspan dy="3.8"> </tspan>= 93%</text>
<line x1="870.26" y1="412.70" x2="994.54" y2="412.70" stroke="#2b2b2b" stroke-width="1"/>
<line x1="870.76" y1="412.70" x2="870.76" y2="419.40" stroke="#2b2b2b" stroke-width="1"/>
<text transform="translate(870.76,436.55) scale(0.99687,1.3090)" text-anchor="middle">-4</text>
<line x1="901.58" y1="412.70" x2="901.58" y2="419.40" stroke="#2b2b2b" stroke-width="1"/>
<text transform="translate(901.58,436.55) scale(0.99687,1.3090)" text-anchor="middle">-2</text>
<line x1="932.40" y1="412.70" x2="932.40" y2="419.40" stroke="#2b2b2b" stroke-width="1"/>
<text transform="translate(932.40,436.55) scale(0.99687,1.3090)" text-anchor="middle">0</text>
<line x1="963.22" y1="412.70" x2="963.22" y2="419.40" stroke="#2b2b2b" stroke-width="1"/>
<text transform="translate(963.22,436.55) scale(0.99687,1.3090)" text-anchor="middle">2</text>
<line x1="994.04" y1="412.70" x2="994.04" y2="419.40" stroke="#2b2b2b" stroke-width="1"/>
<text transform="translate(994.04,436.55) scale(0.99687,1.3090)" text-anchor="middle">4</text>
<text transform="translate(927.30,453.45) scale(0.982065,1.3090)" text-anchor="end">favorous Forest</text>
<text transform="translate(937.80,453.45) scale(0.982065,1.3090)">favorous Non-forest</text>
<text transform="translate(932.40,466.25) scale(0.982065,1.3090)" text-anchor="middle">Fafigue</text>
</g>
<g id="Confusion">
<text transform="translate(130.60,487.80) scale(1.015,1.5708)" text-anchor="end" font-weight="bold">Experimental</text>
<text transform="translate(212.10,487.80) scale(1.015,1.5708)" text-anchor="end" font-weight="bold">Control</text>
<text transform="translate(313.80,487.80) scale(1.015,1.5708)" text-anchor="middle" font-weight="bold">Std. Mean Difference</text>
<text transform="translate(435.30,487.80) scale(1.015,1.5708)" text-anchor="middle" font-weight="bold">Std. Mean Difference</text>
<text transform="translate(19.00,508.20) scale(1.015,1.5708)" font-weight="bold">Study</text>
<text transform="translate(100.65,508.20) scale(1.015,1.5708)" text-anchor="end" font-weight="bold">Mean</text>
<text transform="translate(130.60,508.20) scale(1.015,1.5708)" text-anchor="end" font-weight="bold">SD</text>
<text transform="translate(155.50,508.20) scale(1.015,1.5708)" text-anchor="end" font-weight="bold">Total</text>
<text transform="translate(182.40,508.20) scale(1.015,1.5708)" text-anchor="end" font-weight="bold">Mean</text>
<text transform="translate(212.10,508.20) scale(1.015,1.5708)" text-anchor="end" font-weight="bold">SD</text>
<text transform="translate(236.70,508.20) scale(1.015,1.5708)" text-anchor="end" font-weight="bold">Total</text>
<text transform="translate(268.40,508.20) scale(1.015,1.5708)" text-anchor="end" font-weight="bold">Weight</text>
<text transform="translate(313.80,508.20) scale(1.015,1.5708)" text-anchor="middle" font-weight="bold">IV, Random, 95% CI</text>
<text transform="translate(435.30,508.20) scale(1.015,1.5708)" text-anchor="middle" font-weight="bold">IV, Random, 95% CI</text>
<line x1="435.30" y1="512.50" x2="435.30" y2="634.90" stroke="#2b2b2b" stroke-width="1.15"/>
<line x1="416.50" y1="512.50" x2="416.50" y2="626.10" stroke="#1a1a1a" stroke-width="0.9" stroke-dasharray="1.57 2.67"/>
<text transform="translate(19.00,528.60) scale(1.015,1.5708)">Kim2020</text>
<text transform="translate(100.65,528.60) scale(1.015,1.5708)" text-anchor="end">-1.730</text>
<text transform="translate(130.60,528.60) scale(1.015,1.5708)" text-anchor="end">0.5200</text>
<text transform="translate(155.50,528.60) scale(1.015,1.5708)" text-anchor="end">19</text>
<text transform="translate(182.40,528.60) scale(1.015,1.5708)" text-anchor="end">0.110</text>
<text transform="translate(212.10,528.60) scale(1.015,1.5708)" text-anchor="end">0.5724</text>
<text transform="translate(236.70,528.60) scale(1.015,1.5708)" text-anchor="end">19</text>
<text transform="translate(268.40,528.60) scale(0.9743999999999998,1.5708)" text-anchor="end">20.5%</text>
<text transform="translate(273.80,528.60) scale(1.015,1.5708)">-3.294 [-4.303; -2.286]</text>
<rect x="371.78" y="515.37" width="9.84" height="15.46" fill="#00ff00"/>
<line x1="358.75" y1="523.10" x2="394.63" y2="523.10" stroke="#2b2b2b" stroke-width="1.34"/>
<line x1="376.70" y1="521.22" x2="376.70" y2="524.98" stroke="#000" stroke-width="1"/>
<text transform="translate(19.00,549.00) scale(1.015,1.5708)">Lee2017</text>
<text transform="translate(100.65,549.00) scale(1.015,1.5708)" text-anchor="end">-2.940</text>
<text transform="translate(130.60,549.00) scale(1.015,1.5708)" text-anchor="end">3.6100</text>
<text transform="translate(155.50,549.00) scale(1.015,1.5708)" text-anchor="end">33</text>
<text transform="translate(182.40,549.00) scale(1.015,1.5708)" text-anchor="end">-0.130</text>
<text transform="translate(212.10,549.00) scale(1.015,1.5708)" text-anchor="end">4.1100</text>
<text transform="translate(236.70,549.00) scale(1.015,1.5708)" text-anchor="end">38</text>
<text transform="translate(268.40,549.00) scale(0.9743999999999998,1.5708)" text-anchor="end">26.1%</text>
<text transform="translate(273.80,549.00) scale(1.015,1.5708)">-0.715 [-1.197; -0.233]</text>
<rect x="417.03" y="534.78" width="11.10" height="17.44" fill="#00ff00"/>
<line x1="414.01" y1="543.50" x2="431.15" y2="543.50" stroke="#2b2b2b" stroke-width="1.34"/>
<line x1="422.58" y1="541.62" x2="422.58" y2="545.38" stroke="#000" stroke-width="1"/>
<text transform="translate(19.00,569.40) scale(1.015,1.5708)">Ulrika2017</text>
<text transform="translate(100.65,569.40) scale(1.015,1.5708)" text-anchor="end">-0.830</text>
<text transform="translate(130.60,569.40) scale(1.015,1.5708)" text-anchor="end">3.0480</text>
<text transform="translate(155.50,569.40) scale(1.015,1.5708)" text-anchor="end">47</text>
<text transform="translate(182.40,569.40) scale(1.015,1.5708)" text-anchor="end">-0.550</text>
<text transform="translate(212.10,569.40) scale(1.015,1.5708)" text-anchor="end">4.3060</text>
<text transform="translate(236.70,569.40) scale(1.015,1.5708)" text-anchor="end">47</text>
<text transform="translate(268.40,569.40) scale(0.9743999999999998,1.5708)" text-anchor="end">26.8%</text>
<text transform="translate(273.80,569.40) scale(1.015,1.5708)">-0.074 [-0.479;  0.330]</text>
<rect x="428.36" y="555.06" width="11.25" height="17.67" fill="#00ff00"/>
<line x1="426.78" y1="563.90" x2="441.17" y2="563.90" stroke="#2b2b2b" stroke-width="1.34"/>
<line x1="433.98" y1="562.02" x2="433.98" y2="565.78" stroke="#000" stroke-width="1"/>
<text transform="translate(19.00,589.80) scale(1.015,1.5708)">Takayama2019</text>
<text transform="translate(100.65,589.80) scale(1.015,1.5708)" text-anchor="end">-3.200</text>
<text transform="translate(130.60,589.80) scale(1.015,1.5708)" text-anchor="end">7.4350</text>
<text transform="translate(155.50,589.80) scale(1.015,1.5708)" text-anchor="end">46</text>
<text transform="translate(182.40,589.80) scale(1.015,1.5708)" text-anchor="end">1.740</text>
<text transform="translate(212.10,589.80) scale(1.015,1.5708)" text-anchor="end">7.4840</text>
<text transform="translate(236.70,589.80) scale(1.015,1.5708)" text-anchor="end">46</text>
<text transform="translate(268.40,589.80) scale(0.9743999999999998,1.5708)" text-anchor="end">26.6%</text>
<text transform="translate(273.80,589.80) scale(1.015,1.5708)">-0.657 [-1.077; -0.237]</text>
<rect x="418.01" y="575.50" width="11.21" height="17.61" fill="#00ff00"/>
<line x1="416.14" y1="584.30" x2="431.08" y2="584.30" stroke="#2b2b2b" stroke-width="1.34"/>
<line x1="423.61" y1="582.42" x2="423.61" y2="586.18" stroke="#000" stroke-width="1"/>
<text transform="translate(19.00,630.60) scale(1.015,1.5708)" font-weight="bold">Total (95% CI)</text>
<text transform="translate(155.50,630.60) scale(1.015,1.5708)" text-anchor="end" font-weight="bold">145</text>
<text transform="translate(236.70,630.60) scale(1.015,1.5708)" text-anchor="end" font-weight="bold">150</text>
<text transform="translate(268.40,630.60) scale(1.015,1.5708)" text-anchor="end" font-weight="bold">100.0%</text>
<text transform="translate(273.80,630.60) scale(1.015,1.5708)" font-weight="bold">-1.057 [-1.922; -0.192]</text>
<polygon points="401.11,624.70 416.50,619.67 431.88,624.70 416.50,629.73" fill="#000" stroke="#000" stroke-width="0.8"/>
<text transform="translate(19.00,651.61) scale(1.015,1.5708)" style="font-size:7.0px">Heterogeneity: Tau<tspan dx="0.4" dy="-3.8" style="font-size:5.2px">2</tspan><tspan dy="3.8"> </tspan>= 0.6849; Chi<tspan dx="0.4" dy="-3.8" style="font-size:5.2px">2</tspan><tspan dy="3.8"> </tspan>= 34.20, df = 3 (P &lt; 0.01); I<tspan dx="0.4" dy="-3.8" style="font-size:5.2px">2</tspan><tspan dy="3.8"> </tspan>= 91%</text>
<line x1="363.64" y1="634.90" x2="506.96" y2="634.90" stroke="#2b2b2b" stroke-width="1"/>
<line x1="364.14" y1="634.90" x2="364.14" y2="642.80" stroke="#2b2b2b" stroke-width="1"/>
<text transform="translate(364.14,663.30) scale(1.015,1.5708)" text-anchor="middle">-4</text>
<line x1="399.72" y1="634.90" x2="399.72" y2="642.80" stroke="#2b2b2b" stroke-width="1"/>
<text transform="translate(399.72,663.30) scale(1.015,1.5708)" text-anchor="middle">-2</text>
<line x1="435.30" y1="634.90" x2="435.30" y2="642.80" stroke="#2b2b2b" stroke-width="1"/>
<text transform="translate(435.30,663.30) scale(1.015,1.5708)" text-anchor="middle">0</text>
<line x1="470.88" y1="634.90" x2="470.88" y2="642.80" stroke="#2b2b2b" stroke-width="1"/>
<text transform="translate(470.88,663.30) scale(1.015,1.5708)" text-anchor="middle">2</text>
<line x1="506.46" y1="634.90" x2="506.46" y2="642.80" stroke="#2b2b2b" stroke-width="1"/>
<text transform="translate(506.46,663.30) scale(1.015,1.5708)" text-anchor="middle">4</text>
<text transform="translate(430.20,683.30) scale(0.9946999999999999,1.5708)" text-anchor="end">favorous Forest</text>
<text transform="translate(440.70,683.30) scale(0.9946999999999999,1.5708)">favorous Non-forest</text>
<text transform="translate(435.30,698.70) scale(0.9946999999999999,1.5708)" text-anchor="middle">Confusion</text>
</g>
<g id="Vigor">
<text transform="translate(630.80,485.48) scale(0.995,1.4245)" text-anchor="end" font-weight="bold">Experimental</text>
<text transform="translate(711.85,485.48) scale(0.995,1.4245)" text-anchor="end" font-weight="bold">Control</text>
<text transform="translate(813.70,485.48) scale(0.995,1.4245)" text-anchor="middle" font-weight="bold">Std. Mean Difference</text>
<text transform="translate(935.00,485.48) scale(0.995,1.4245)" text-anchor="middle" font-weight="bold">Std. Mean Difference</text>
<text transform="translate(515.20,503.98) scale(0.995,1.4245)" font-weight="bold">Study</text>
<text transform="translate(597.10,503.98) scale(0.995,1.4245)" text-anchor="end" font-weight="bold">Mean</text>
<text transform="translate(630.80,503.98) scale(0.995,1.4245)" text-anchor="end" font-weight="bold">SD</text>
<text transform="translate(655.15,503.98) scale(0.995,1.4245)" text-anchor="end" font-weight="bold">Total</text>
<text transform="translate(682.50,503.98) scale(0.995,1.4245)" text-anchor="end" font-weight="bold">Mean</text>
<text transform="translate(711.85,503.98) scale(0.995,1.4245)" text-anchor="end" font-weight="bold">SD</text>
<text transform="translate(736.70,503.98) scale(0.995,1.4245)" text-anchor="end" font-weight="bold">Total</text>
<text transform="translate(768.30,503.98) scale(0.995,1.4245)" text-anchor="end" font-weight="bold">Weight</text>
<text transform="translate(813.70,503.98) scale(0.995,1.4245)" text-anchor="middle" font-weight="bold">IV, Random, 95% CI</text>
<text transform="translate(935.00,503.98) scale(0.995,1.4245)" text-anchor="middle" font-weight="bold">IV, Random, 95% CI</text>
<line x1="935.00" y1="508.00" x2="935.00" y2="637.90" stroke="#2b2b2b" stroke-width="1.15"/>
<line x1="945.66" y1="508.00" x2="945.66" y2="629.40" stroke="#1a1a1a" stroke-width="0.9" stroke-dasharray="1.42 2.42"/>
<text transform="translate(515.20,522.48) scale(0.995,1.4245)">Morita2007</text>
<text transform="translate(597.10,522.48) scale(0.995,1.4245)" text-anchor="end">0.400</text>
<text transform="translate(630.80,522.48) scale(0.995,1.4245)" text-anchor="end">3.0504</text>
<text transform="translate(655.15,522.48) scale(0.995,1.4245)" text-anchor="end">476</text>
<text transform="translate(682.50,522.48) scale(0.995,1.4245)" text-anchor="end">-0.200</text>
<text transform="translate(711.85,522.48) scale(0.995,1.4245)" text-anchor="end">3.3504</text>
<text transform="translate(736.70,522.48) scale(0.995,1.4245)" text-anchor="end">476</text>
<text transform="translate(768.30,522.48) scale(0.9551999999999999,1.4245)" text-anchor="end">23.2%</text>
<text transform="translate(775.30,522.48) scale(0.995,1.4245)"> 0.187 [ 0.060; 0.314]</text>
<rect x="932.18" y="509.69" width="11.25" height="16.03" fill="#00ff00"/>
<line x1="935.90" y1="517.70" x2="939.71" y2="517.70" stroke="#fff" stroke-width="1.21"/>
<line x1="937.81" y1="515.99" x2="937.81" y2="519.41" stroke="#fff" stroke-width="1"/>
<text transform="translate(515.20,540.98) scale(0.995,1.4245)">Kim2020</text>
<text transform="translate(597.10,540.98) scale(0.995,1.4245)" text-anchor="end">2.680</text>
<text transform="translate(630.80,540.98) scale(0.995,1.4245)" text-anchor="end">0.8487</text>
<text transform="translate(655.15,540.98) scale(0.995,1.4245)" text-anchor="end">19</text>
<text transform="translate(682.50,540.98) scale(0.995,1.4245)" text-anchor="end">-0.420</text>
<text transform="translate(711.85,540.98) scale(0.995,1.4245)" text-anchor="end">0.6940</text>
<text transform="translate(736.70,540.98) scale(0.995,1.4245)" text-anchor="end">19</text>
<text transform="translate(768.30,540.98) scale(0.9551999999999999,1.4245)" text-anchor="end">13.5%</text>
<text transform="translate(775.30,540.98) scale(0.995,1.4245)"> 3.915 [ 2.789; 5.041]</text>
<rect x="989.47" y="530.09" width="8.58" height="12.22" fill="#00ff00"/>
<line x1="976.86" y1="536.20" x2="1010.67" y2="536.20" stroke="#2b2b2b" stroke-width="1.21"/>
<line x1="993.76" y1="534.49" x2="993.76" y2="537.91" stroke="#000" stroke-width="1"/>
<text transform="translate(515.20,559.48) scale(0.995,1.4245)">Lee2017</text>
<text transform="translate(597.10,559.48) scale(0.995,1.4245)" text-anchor="end">-1.610</text>
<text transform="translate(630.80,559.48) scale(0.995,1.4245)" text-anchor="end">6.3300</text>
<text transform="translate(655.15,559.48) scale(0.995,1.4245)" text-anchor="end">33</text>
<text transform="translate(682.50,559.48) scale(0.995,1.4245)" text-anchor="end">0.420</text>
<text transform="translate(711.85,559.48) scale(0.995,1.4245)" text-anchor="end">3.8100</text>
<text transform="translate(736.70,559.48) scale(0.995,1.4245)" text-anchor="end">38</text>
<text transform="translate(768.30,559.48) scale(0.9551999999999999,1.4245)" text-anchor="end">20.7%</text>
<text transform="translate(775.30,559.48) scale(0.995,1.4245)">-0.391 [-0.862; 0.080]</text>
<rect x="923.82" y="547.13" width="10.63" height="15.14" fill="#00ff00"/>
<line x1="922.06" y1="554.70" x2="936.20" y2="554.70" stroke="#2b2b2b" stroke-width="1.21"/>
<line x1="929.13" y1="552.99" x2="929.13" y2="556.41" stroke="#000" stroke-width="1"/>
<text transform="translate(515.20,577.98) scale(0.995,1.4245)">Ulrika2017</text>
<text transform="translate(597.10,577.98) scale(0.995,1.4245)" text-anchor="end">0.490</text>
<text transform="translate(630.80,577.98) scale(0.995,1.4245)" text-anchor="end">6.5100</text>
<text transform="translate(655.15,577.98) scale(0.995,1.4245)" text-anchor="end">47</text>
<text transform="translate(682.50,577.98) scale(0.995,1.4245)" text-anchor="end">-1.170</text>
<text transform="translate(711.85,577.98) scale(0.995,1.4245)" text-anchor="end">6.5300</text>
<text transform="translate(736.70,577.98) scale(0.995,1.4245)" text-anchor="end">47</text>
<text transform="translate(768.30,577.98) scale(0.9551999999999999,1.4245)" text-anchor="end">21.4%</text>
<text transform="translate(775.30,577.98) scale(0.995,1.4245)"> 0.253 [-0.153; 0.659]</text>
<rect x="933.40" y="565.50" width="10.80" height="15.39" fill="#00ff00"/>
<line x1="932.70" y1="573.20" x2="944.89" y2="573.20" stroke="#2b2b2b" stroke-width="1.21"/>
<line x1="938.80" y1="571.49" x2="938.80" y2="574.91" stroke="#000" stroke-width="1"/>
<text transform="translate(515.20,596.48) scale(0.995,1.4245)">Takayama2019</text>
<text transform="translate(597.10,596.48) scale(0.995,1.4245)" text-anchor="end">2.370</text>
<text transform="translate(630.80,596.48) scale(0.995,1.4245)" text-anchor="end">10.0200</text>
<text transform="translate(655.15,596.48) scale(0.995,1.4245)" text-anchor="end">46</text>
<text transform="translate(682.50,596.48) scale(0.995,1.4245)" text-anchor="end">-5.060</text>
<text transform="translate(711.85,596.48) scale(0.995,1.4245)" text-anchor="end">8.9700</text>
<text transform="translate(736.70,596.48) scale(0.995,1.4245)" text-anchor="end">46</text>
<text transform="translate(768.30,596.48) scale(0.9551999999999999,1.4245)" text-anchor="end">21.2%</text>
<text transform="translate(775.30,596.48) scale(0.995,1.4245)"> 0.775 [ 0.350; 1.199]</text>
<rect x="941.26" y="584.04" width="10.75" height="15.32" fill="#00ff00"/>
<line x1="940.25" y1="591.70" x2="953.00" y2="591.70" stroke="#2b2b2b" stroke-width="1.21"/>
<line x1="946.63" y1="589.99" x2="946.63" y2="593.41" stroke="#000" stroke-width="1"/>
<text transform="translate(515.20,633.48) scale(0.995,1.4245)" font-weight="bold">Total (95% CI)</text>
<text transform="translate(655.15,633.48) scale(0.995,1.4245)" text-anchor="end" font-weight="bold">621</text>
<text transform="translate(736.70,633.48) scale(0.995,1.4245)" text-anchor="end" font-weight="bold">626</text>
<text transform="translate(768.30,633.48) scale(0.995,1.4245)" text-anchor="end" font-weight="bold">100.0%</text>
<text transform="translate(775.30,633.48) scale(0.995,1.4245)" font-weight="bold"> 0.710 [ 0.072; 1.348]</text>
<polygon points="936.08,628.90 945.66,624.34 955.23,628.90 945.66,633.46" fill="#000" stroke="#000" stroke-width="0.8"/>
<text transform="translate(515.20,652.54) scale(1.0149,1.4245)" style="font-size:7.0px">Heterogeneity: Tau<tspan dx="0.4" dy="-3.8" style="font-size:5.2px">2</tspan><tspan dy="3.8"> </tspan>= 0.4528; Chi<tspan dx="0.4" dy="-3.8" style="font-size:5.2px">2</tspan><tspan dy="3.8"> </tspan>= 54.55, df = 4 (P &lt; 0.01); I<tspan dx="0.4" dy="-3.8" style="font-size:5.2px">2</tspan><tspan dy="3.8"> </tspan>= 93%</text>
<line x1="874.46" y1="637.90" x2="995.54" y2="637.90" stroke="#2b2b2b" stroke-width="1"/>
<line x1="874.96" y1="637.90" x2="874.96" y2="645.10" stroke="#2b2b2b" stroke-width="1"/>
<text transform="translate(874.96,664.18) scale(1.0149,1.4245)" text-anchor="middle">-4</text>
<line x1="904.98" y1="637.90" x2="904.98" y2="645.10" stroke="#2b2b2b" stroke-width="1"/>
<text transform="translate(904.98,664.18) scale(1.0149,1.4245)" text-anchor="middle">-2</text>
<line x1="935.00" y1="637.90" x2="935.00" y2="645.10" stroke="#2b2b2b" stroke-width="1"/>
<text transform="translate(935.00,664.18) scale(1.0149,1.4245)" text-anchor="middle">0</text>
<line x1="965.02" y1="637.90" x2="965.02" y2="645.10" stroke="#2b2b2b" stroke-width="1"/>
<text transform="translate(965.02,664.18) scale(1.0149,1.4245)" text-anchor="middle">2</text>
<line x1="995.04" y1="637.90" x2="995.04" y2="645.10" stroke="#2b2b2b" stroke-width="1"/>
<text transform="translate(995.04,664.18) scale(1.0149,1.4245)" text-anchor="middle">4</text>
<text transform="translate(929.90,682.98) scale(0.995,1.4245)" text-anchor="end">favorous Non-forest</text>
<text transform="translate(940.40,682.98) scale(0.995,1.4245)">favorous Forest</text>
<text transform="translate(935.00,696.68) scale(0.995,1.4245)" text-anchor="middle">Vigor</text>
</g>
</svg>
</body>
</html>
